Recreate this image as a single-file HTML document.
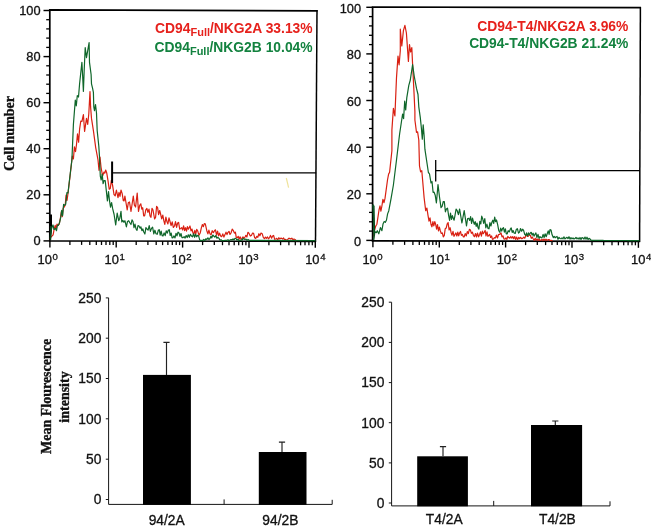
<!DOCTYPE html>
<html><head><meta charset="utf-8"><title>Figure</title>
<style>
html,body{margin:0;padding:0;background:#fff;}
svg{display:block;}
text{font-family:"Liberation Sans",Arial,Helvetica,sans-serif;fill:#111;}
.hl{font-size:12.8px;stroke:#111;stroke-width:0.3px;}
.xl{font-size:12.9px;stroke:#111;stroke-width:0.3px;}
.sup{font-size:9.6px;}
.lg{font-size:13.85px;font-weight:bold;}
.sub{font-size:11px;}
.bl{font-size:13.8px;stroke:#111;stroke-width:0.3px;}
.yl{font-family:"Liberation Serif","Times New Roman",serif;font-weight:bold;font-size:14px;fill:#111;stroke:#111;stroke-width:0.35px;}
</style></head>
<body>
<svg width="651" height="529" viewBox="0 0 651 529">
<rect width="651" height="529" fill="#fff"/>
<path d="M49.8,241.6 L49.8,9.9 L317.6,10.8" fill="none" stroke="#000" stroke-width="1.7" stroke-linejoin="miter"/>
<path d="M317.0,10.100000000000001 L315.5,242.1" fill="none" stroke="#000" stroke-width="1.5"/>
<path d="M49.0,241.0 L316.0,241.4" fill="none" stroke="#000" stroke-width="1.6"/>
<line x1="43.5" y1="240.9" x2="49.8" y2="240.9" stroke="#000" stroke-width="1.45"/>
<text x="40.6" y="245.4" text-anchor="end" class="hl">0</text>
<line x1="46.2" y1="231.7" x2="49.8" y2="231.7" stroke="#000" stroke-width="1.3"/>
<line x1="46.2" y1="222.5" x2="49.8" y2="222.5" stroke="#000" stroke-width="1.3"/>
<line x1="46.2" y1="213.3" x2="49.8" y2="213.3" stroke="#000" stroke-width="1.3"/>
<line x1="46.2" y1="204.0" x2="49.8" y2="204.0" stroke="#000" stroke-width="1.3"/>
<line x1="43.5" y1="194.8" x2="49.8" y2="194.8" stroke="#000" stroke-width="1.45"/>
<text x="40.6" y="199.3" text-anchor="end" class="hl">20</text>
<line x1="46.2" y1="185.6" x2="49.8" y2="185.6" stroke="#000" stroke-width="1.3"/>
<line x1="46.2" y1="176.4" x2="49.8" y2="176.4" stroke="#000" stroke-width="1.3"/>
<line x1="46.2" y1="167.2" x2="49.8" y2="167.2" stroke="#000" stroke-width="1.3"/>
<line x1="46.2" y1="158.0" x2="49.8" y2="158.0" stroke="#000" stroke-width="1.3"/>
<line x1="43.5" y1="148.7" x2="49.8" y2="148.7" stroke="#000" stroke-width="1.45"/>
<text x="40.6" y="153.2" text-anchor="end" class="hl">40</text>
<line x1="46.2" y1="139.5" x2="49.8" y2="139.5" stroke="#000" stroke-width="1.3"/>
<line x1="46.2" y1="130.3" x2="49.8" y2="130.3" stroke="#000" stroke-width="1.3"/>
<line x1="46.2" y1="121.1" x2="49.8" y2="121.1" stroke="#000" stroke-width="1.3"/>
<line x1="46.2" y1="111.9" x2="49.8" y2="111.9" stroke="#000" stroke-width="1.3"/>
<line x1="43.5" y1="102.7" x2="49.8" y2="102.7" stroke="#000" stroke-width="1.45"/>
<text x="40.6" y="107.2" text-anchor="end" class="hl">60</text>
<line x1="46.2" y1="93.4" x2="49.8" y2="93.4" stroke="#000" stroke-width="1.3"/>
<line x1="46.2" y1="84.2" x2="49.8" y2="84.2" stroke="#000" stroke-width="1.3"/>
<line x1="46.2" y1="75.0" x2="49.8" y2="75.0" stroke="#000" stroke-width="1.3"/>
<line x1="46.2" y1="65.8" x2="49.8" y2="65.8" stroke="#000" stroke-width="1.3"/>
<line x1="43.5" y1="56.6" x2="49.8" y2="56.6" stroke="#000" stroke-width="1.45"/>
<text x="40.6" y="61.1" text-anchor="end" class="hl">80</text>
<line x1="46.2" y1="47.4" x2="49.8" y2="47.4" stroke="#000" stroke-width="1.3"/>
<line x1="46.2" y1="38.1" x2="49.8" y2="38.1" stroke="#000" stroke-width="1.3"/>
<line x1="46.2" y1="28.9" x2="49.8" y2="28.9" stroke="#000" stroke-width="1.3"/>
<line x1="46.2" y1="19.7" x2="49.8" y2="19.7" stroke="#000" stroke-width="1.3"/>
<line x1="43.5" y1="10.5" x2="49.8" y2="10.5" stroke="#000" stroke-width="1.45"/>
<text x="40.6" y="15.0" text-anchor="end" class="hl">100</text>
<line x1="49.9" y1="241.0" x2="49.9" y2="247.4" stroke="#000" stroke-width="1.4"/>
<text x="37.6" y="264.3" class="xl">10<tspan dy="-4.6" dx="0.6" class="sup">0</tspan></text>
<line x1="69.9" y1="241.0" x2="69.9" y2="244.9" stroke="#000" stroke-width="1.3"/>
<line x1="81.6" y1="241.0" x2="81.6" y2="244.9" stroke="#000" stroke-width="1.3"/>
<line x1="89.8" y1="241.1" x2="89.8" y2="245.0" stroke="#000" stroke-width="1.3"/>
<line x1="96.3" y1="241.1" x2="96.3" y2="245.0" stroke="#000" stroke-width="1.3"/>
<line x1="101.5" y1="241.1" x2="101.5" y2="245.0" stroke="#000" stroke-width="1.3"/>
<line x1="106.0" y1="241.1" x2="106.0" y2="245.0" stroke="#000" stroke-width="1.3"/>
<line x1="109.8" y1="241.1" x2="109.8" y2="245.0" stroke="#000" stroke-width="1.3"/>
<line x1="113.2" y1="241.1" x2="113.2" y2="245.0" stroke="#000" stroke-width="1.3"/>
<line x1="116.2" y1="241.1" x2="116.2" y2="247.5" stroke="#000" stroke-width="1.4"/>
<text x="104.5" y="264.3" class="xl">10<tspan dy="-4.6" dx="0.6" class="sup">1</tspan></text>
<line x1="136.2" y1="241.1" x2="136.2" y2="245.0" stroke="#000" stroke-width="1.3"/>
<line x1="147.9" y1="241.1" x2="147.9" y2="245.0" stroke="#000" stroke-width="1.3"/>
<line x1="156.2" y1="241.2" x2="156.2" y2="245.1" stroke="#000" stroke-width="1.3"/>
<line x1="162.6" y1="241.2" x2="162.6" y2="245.1" stroke="#000" stroke-width="1.3"/>
<line x1="167.9" y1="241.2" x2="167.9" y2="245.1" stroke="#000" stroke-width="1.3"/>
<line x1="172.3" y1="241.2" x2="172.3" y2="245.1" stroke="#000" stroke-width="1.3"/>
<line x1="176.2" y1="241.2" x2="176.2" y2="245.1" stroke="#000" stroke-width="1.3"/>
<line x1="179.6" y1="241.2" x2="179.6" y2="245.1" stroke="#000" stroke-width="1.3"/>
<line x1="182.6" y1="241.2" x2="182.6" y2="247.6" stroke="#000" stroke-width="1.4"/>
<text x="171.4" y="264.3" class="xl">10<tspan dy="-4.6" dx="0.6" class="sup">2</tspan></text>
<line x1="202.6" y1="241.2" x2="202.6" y2="245.1" stroke="#000" stroke-width="1.3"/>
<line x1="214.3" y1="241.2" x2="214.3" y2="245.1" stroke="#000" stroke-width="1.3"/>
<line x1="222.5" y1="241.3" x2="222.5" y2="245.2" stroke="#000" stroke-width="1.3"/>
<line x1="229.0" y1="241.3" x2="229.0" y2="245.2" stroke="#000" stroke-width="1.3"/>
<line x1="234.2" y1="241.3" x2="234.2" y2="245.2" stroke="#000" stroke-width="1.3"/>
<line x1="238.7" y1="241.3" x2="238.7" y2="245.2" stroke="#000" stroke-width="1.3"/>
<line x1="242.5" y1="241.3" x2="242.5" y2="245.2" stroke="#000" stroke-width="1.3"/>
<line x1="245.9" y1="241.3" x2="245.9" y2="245.2" stroke="#000" stroke-width="1.3"/>
<line x1="249.0" y1="241.3" x2="249.0" y2="247.7" stroke="#000" stroke-width="1.4"/>
<text x="238.3" y="264.3" class="xl">10<tspan dy="-4.6" dx="0.6" class="sup">3</tspan></text>
<line x1="268.9" y1="241.3" x2="268.9" y2="245.2" stroke="#000" stroke-width="1.3"/>
<line x1="280.6" y1="241.3" x2="280.6" y2="245.2" stroke="#000" stroke-width="1.3"/>
<line x1="288.9" y1="241.4" x2="288.9" y2="245.3" stroke="#000" stroke-width="1.3"/>
<line x1="295.3" y1="241.4" x2="295.3" y2="245.3" stroke="#000" stroke-width="1.3"/>
<line x1="300.6" y1="241.4" x2="300.6" y2="245.3" stroke="#000" stroke-width="1.3"/>
<line x1="305.0" y1="241.4" x2="305.0" y2="245.3" stroke="#000" stroke-width="1.3"/>
<line x1="308.9" y1="241.4" x2="308.9" y2="245.3" stroke="#000" stroke-width="1.3"/>
<line x1="312.3" y1="241.4" x2="312.3" y2="245.3" stroke="#000" stroke-width="1.3"/>
<line x1="315.3" y1="241.4" x2="315.3" y2="247.8" stroke="#000" stroke-width="1.4"/>
<text x="305.2" y="264.3" class="xl">10<tspan dy="-4.6" dx="0.6" class="sup">4</tspan></text>
<polyline points="50.0,239.0 51.0,236.9 52.0,236.0 53.1,234.9 54.2,229.0 55.2,225.4 56.1,228.8 57.0,224.1 58.0,225.5 59.2,224.2 60.4,218.0 61.4,211.7 62.3,216.7 63.2,208.1 64.2,207.0 65.2,205.2 66.1,195.0 67.0,200.5 68.0,193.5 70.3,174.0 72.3,156.0 73.4,159.0 74.4,146.9 75.5,151.6 76.5,144.5 77.5,133.8 78.6,142.1 79.6,129.2 80.8,121.0 81.9,121.5 83.4,114.6 84.6,131.5 86.5,118.4 87.7,124.5 88.8,113.8 90.0,91.5 90.6,106.9 91.5,118.4 93.4,130.7 95.7,147.6 98.0,159.9 99.0,170.3 100.0,157.0 101.0,167.0 102.6,176.0 104.0,172.0 104.8,173.2 105.7,170.0 106.8,173.3 108.0,180.7 109.2,189.2 110.3,188.4 111.4,180.2 112.6,185.3 114.0,194.5 115.2,195.8 116.4,190.0 118.0,197.6 119.0,192.4 120.0,196.3 121.0,190.0 122.2,193.6 123.3,200.7 124.1,200.9 124.9,196.0 127.2,210.0 128.3,202.8 129.5,202.0 131.0,211.5 133.3,196.0 134.4,205.2 135.6,207.0 137.2,193.0 138.5,211.5 139.7,205.3 140.8,203.8 141.8,209.2 142.7,207.7 143.7,215.9 144.6,216.0 145.8,209.8 146.9,208.4 147.9,212.3 149.0,209.1 150.0,216.0 151.0,217.3 152.0,208.3 153.0,210.0 154.6,219.0 155.6,217.1 156.6,206.3 157.6,207.6 158.6,214.6 159.7,210.5 160.7,214.5 161.7,218.9 162.8,215.1 163.8,220.7 164.8,224.3 165.9,217.2 166.9,221.5 167.9,223.9 169.0,217.9 170.0,221.5 171.1,225.7 172.2,221.9 173.4,227.5 174.5,226.0 175.5,221.6 176.6,227.4 177.6,223.0 178.6,222.4 179.7,229.1 180.7,228.4 181.7,227.6 182.6,230.0 183.6,225.9 184.6,230.6 185.5,227.7 186.5,231.1 187.4,226.6 188.4,229.2 190.0,226.0 191.0,230.9 192.0,229.1 193.0,233.0 193.9,234.1 194.8,230.3 195.8,234.0 196.7,229.3 197.6,230.7 199.0,235.3 200.2,233.0 201.4,227.6 202.4,224.5 203.4,226.7 204.3,223.7 205.3,223.8 206.8,230.7 207.9,233.9 208.9,230.1 210.0,233.8 211.1,234.9 212.2,230.7 213.4,232.6 214.5,230.7 215.5,229.8 216.5,235.2 217.6,231.2 218.6,235.8 219.6,233.1 220.6,236.0 221.7,236.6 222.8,233.9 223.9,237.1 225.0,234.6 226.0,232.1 227.0,234.6 228.0,232.3 229.0,231.3 230.0,234.5 231.0,233.0 232.2,229.1 233.4,230.7 234.4,233.1 235.4,232.1 236.3,237.7 237.3,237.6 238.2,236.3 239.2,239.2 240.1,236.8 241.1,239.2 242.0,238.4 243.0,236.9 244.0,238.4 245.0,237.0 245.9,235.4 246.9,237.0 247.9,232.3 248.8,233.0 250.3,236.0 251.4,235.4 252.6,233.0 253.6,233.3 254.7,237.8 255.7,238.4 256.8,236.4 257.8,237.3 258.9,233.7 259.9,235.8 261.0,233.0 262.2,233.7 263.4,237.6 264.4,238.6 265.4,237.1 266.4,238.3 267.5,237.0 268.5,238.8 269.5,237.6 270.5,235.4 271.6,238.2 272.6,236.0 273.6,235.5 274.7,239.3 275.7,239.0 276.7,238.3 277.7,240.0 278.8,237.7 279.8,239.0 280.8,238.1 281.8,238.4 282.7,239.1 283.6,238.0 284.6,239.8 285.5,239.4 286.4,240.0 287.4,240.2 288.5,238.3 289.5,238.4 290.6,239.0 291.8,238.2 292.9,239.7 294.0,239.0 295.0,239.5 296.0,240.7" fill="none" stroke="#d92012" stroke-width="1.2" stroke-linejoin="round" stroke-linecap="round"/>
<polyline points="50.0,238.0 51.0,230.0 52.0,227.0 53.0,225.0 54.0,229.5 55.5,228.4 56.5,230.7 57.4,225.3 58.4,225.3 59.5,222.8 60.7,217.6 61.7,210.3 62.6,215.6 63.6,204.4 64.6,205.4 65.7,204.1 66.9,192.7 68.0,193.0 70.3,173.0 71.9,160.0 73.4,124.5 75.3,100.0 76.3,105.8 77.3,95.5 78.5,97.0 79.6,83.8 81.9,62.3 82.6,75.0 83.4,91.4 84.2,70.0 85.2,47.7 86.5,57.6 87.8,50.0 89.1,42.6 89.5,62.3 91.1,74.5 91.5,83.8 92.6,88.4 93.4,92.3 93.8,106.8 94.5,110.7 95.5,104.5 96.5,113.0 97.2,130.7 98.8,146.0 99.5,156.8 100.3,176.0 101.2,180.0 102.2,174.1 103.1,183.6 104.0,180.7 105.2,180.5 106.4,191.5 107.4,201.0 108.5,191.6 109.5,200.7 110.5,207.1 111.6,202.6 112.6,208.4 114.1,214.5 115.7,225.0 117.2,213.0 118.7,220.7 119.8,218.2 121.0,211.4 121.8,222.0 122.8,220.4 123.9,222.3 124.9,220.7 126.4,226.8 127.5,221.4 128.7,220.7 130.0,223.0 131.0,224.5 132.0,219.8 133.0,221.5 134.0,227.6 135.0,224.2 136.0,229.0 137.0,230.3 138.0,225.5 139.0,226.0 140.0,228.1 140.9,226.8 141.9,230.7 142.8,228.9 143.8,232.0 144.9,234.0 145.9,227.7 147.0,229.0 148.1,230.1 149.2,225.7 150.4,231.4 151.5,228.4 152.6,227.2 153.8,233.8 154.9,230.2 156.0,233.8 157.2,234.3 158.4,230.0 159.3,229.7 160.2,235.1 161.2,231.1 162.1,235.7 163.0,236.0 164.1,232.9 165.2,235.6 166.2,230.8 167.3,233.1 168.4,230.0 169.3,229.7 170.2,235.5 171.2,233.1 172.1,237.9 173.0,237.6 174.0,235.9 175.0,237.9 176.0,233.3 177.0,235.9 178.0,232.1 179.0,233.0 180.0,236.4 181.0,233.5 182.0,237.7 183.0,237.6 184.1,236.7 185.1,238.1 186.2,235.6 187.2,237.5 188.3,234.8 189.4,237.3 190.4,234.3 191.5,236.0 192.5,236.9 193.5,233.7 194.6,237.3 195.6,234.2 196.6,236.8 197.6,235.3 198.6,235.8 199.7,239.8 200.7,240.7 201.7,240.4 202.8,240.5 203.8,239.4 204.8,240.6 205.9,238.7 206.9,239.5 207.9,237.8 209.0,239.7 210.0,238.4 210.9,236.3 211.8,237.9 212.8,235.0 213.7,236.0 214.8,237.1 215.8,235.6 216.9,238.2 217.9,237.3 219.0,238.4 220.0,240.2 221.0,239.7 222.0,240.7 223.0,240.6 224.0,240.5 225.0,240.4 226.0,240.3 227.0,240.3 228.0,239.8 229.0,240.7 230.0,240.0 231.0,239.5 232.0,240.0 233.0,238.8 234.0,239.9 235.0,238.3 236.0,238.5 237.0,240.2 238.0,239.2 239.0,240.6 240.0,240.5 241.0,239.9 242.0,240.2 243.0,238.4 244.0,239.0 245.0,239.6 246.0,239.0 247.0,240.4 248.0,239.4 249.0,240.3 250.0,240.3 315.0,240.6" fill="none" stroke="#0f662a" stroke-width="1.2" stroke-linejoin="round" stroke-linecap="round"/>
<path d="M49.4,214.5 H52 V227 L50.6,239.5 H49.4 Z" fill="#000"/>
<path d="M50.2,226 L52.3,226.5 L51.2,240 L49.8,240 Z" fill="#0a4a1c"/>
<line x1="112.1" y1="161.5" x2="112.1" y2="183" stroke="#000" stroke-width="2"/>
<line x1="112.1" y1="172.8" x2="316.2" y2="172.8" stroke="#000" stroke-width="1.3"/>
<line x1="286.3" y1="178" x2="288.6" y2="187.6" stroke="#efe39a" stroke-width="1.2"/>
<text x="312.6" y="32.7" text-anchor="end" class="lg" style="fill:#e6211c">CD94<tspan class="sub" dy="2.8">Full</tspan><tspan dy="-2.8">/NKG2A 33.13%</tspan></text>
<text x="312.6" y="51.8" text-anchor="end" class="lg" style="fill:#13823f">CD94<tspan class="sub" dy="2.8">Full</tspan><tspan dy="-2.8">/NKG2B 10.04%</tspan></text>
<text transform="translate(13.9,133.5) rotate(-90)" text-anchor="middle" class="yl">Cell number</text>
<path d="M372.6,241.5 L372.6,7.0 L641.0,7.7" fill="none" stroke="#000" stroke-width="1.7" stroke-linejoin="miter"/>
<path d="M640.4,7.0 L639.6,242.1" fill="none" stroke="#000" stroke-width="1.5"/>
<path d="M371.8,240.9 L640.1,241.4" fill="none" stroke="#000" stroke-width="1.6"/>
<line x1="366.3" y1="240.4" x2="372.6" y2="240.4" stroke="#000" stroke-width="1.45"/>
<text x="361.1" y="245.9" text-anchor="end" class="hl">0</text>
<line x1="369.0" y1="231.1" x2="372.6" y2="231.1" stroke="#000" stroke-width="1.3"/>
<line x1="369.0" y1="221.8" x2="372.6" y2="221.8" stroke="#000" stroke-width="1.3"/>
<line x1="369.0" y1="212.4" x2="372.6" y2="212.4" stroke="#000" stroke-width="1.3"/>
<line x1="369.0" y1="203.1" x2="372.6" y2="203.1" stroke="#000" stroke-width="1.3"/>
<line x1="366.3" y1="193.8" x2="372.6" y2="193.8" stroke="#000" stroke-width="1.45"/>
<text x="361.1" y="199.3" text-anchor="end" class="hl">20</text>
<line x1="369.0" y1="184.5" x2="372.6" y2="184.5" stroke="#000" stroke-width="1.3"/>
<line x1="369.0" y1="175.1" x2="372.6" y2="175.1" stroke="#000" stroke-width="1.3"/>
<line x1="369.0" y1="165.8" x2="372.6" y2="165.8" stroke="#000" stroke-width="1.3"/>
<line x1="369.0" y1="156.5" x2="372.6" y2="156.5" stroke="#000" stroke-width="1.3"/>
<line x1="366.3" y1="147.2" x2="372.6" y2="147.2" stroke="#000" stroke-width="1.45"/>
<text x="361.1" y="152.7" text-anchor="end" class="hl">40</text>
<line x1="369.0" y1="137.8" x2="372.6" y2="137.8" stroke="#000" stroke-width="1.3"/>
<line x1="369.0" y1="128.5" x2="372.6" y2="128.5" stroke="#000" stroke-width="1.3"/>
<line x1="369.0" y1="119.2" x2="372.6" y2="119.2" stroke="#000" stroke-width="1.3"/>
<line x1="369.0" y1="109.9" x2="372.6" y2="109.9" stroke="#000" stroke-width="1.3"/>
<line x1="366.3" y1="100.5" x2="372.6" y2="100.5" stroke="#000" stroke-width="1.45"/>
<text x="361.1" y="106.0" text-anchor="end" class="hl">60</text>
<line x1="369.0" y1="91.2" x2="372.6" y2="91.2" stroke="#000" stroke-width="1.3"/>
<line x1="369.0" y1="81.9" x2="372.6" y2="81.9" stroke="#000" stroke-width="1.3"/>
<line x1="369.0" y1="72.6" x2="372.6" y2="72.6" stroke="#000" stroke-width="1.3"/>
<line x1="369.0" y1="63.2" x2="372.6" y2="63.2" stroke="#000" stroke-width="1.3"/>
<line x1="366.3" y1="53.9" x2="372.6" y2="53.9" stroke="#000" stroke-width="1.45"/>
<text x="361.1" y="59.4" text-anchor="end" class="hl">80</text>
<line x1="369.0" y1="44.6" x2="372.6" y2="44.6" stroke="#000" stroke-width="1.3"/>
<line x1="369.0" y1="35.3" x2="372.6" y2="35.3" stroke="#000" stroke-width="1.3"/>
<line x1="369.0" y1="25.9" x2="372.6" y2="25.9" stroke="#000" stroke-width="1.3"/>
<line x1="369.0" y1="16.6" x2="372.6" y2="16.6" stroke="#000" stroke-width="1.3"/>
<line x1="366.3" y1="7.3" x2="372.6" y2="7.3" stroke="#000" stroke-width="1.45"/>
<text x="361.1" y="12.8" text-anchor="end" class="hl">100</text>
<line x1="372.9" y1="240.9" x2="372.9" y2="247.3" stroke="#000" stroke-width="1.4"/>
<text x="362.4" y="264.3" class="xl">10<tspan dy="-4.6" dx="0.6" class="sup">0</tspan></text>
<line x1="392.9" y1="240.9" x2="392.9" y2="244.8" stroke="#000" stroke-width="1.3"/>
<line x1="404.6" y1="241.0" x2="404.6" y2="244.9" stroke="#000" stroke-width="1.3"/>
<line x1="412.9" y1="241.0" x2="412.9" y2="244.9" stroke="#000" stroke-width="1.3"/>
<line x1="419.3" y1="241.0" x2="419.3" y2="244.9" stroke="#000" stroke-width="1.3"/>
<line x1="424.5" y1="241.0" x2="424.5" y2="244.9" stroke="#000" stroke-width="1.3"/>
<line x1="429.0" y1="241.0" x2="429.0" y2="244.9" stroke="#000" stroke-width="1.3"/>
<line x1="432.8" y1="241.0" x2="432.8" y2="244.9" stroke="#000" stroke-width="1.3"/>
<line x1="436.2" y1="241.0" x2="436.2" y2="244.9" stroke="#000" stroke-width="1.3"/>
<line x1="439.3" y1="241.0" x2="439.3" y2="247.4" stroke="#000" stroke-width="1.4"/>
<text x="429.5" y="264.3" class="xl">10<tspan dy="-4.6" dx="0.6" class="sup">1</tspan></text>
<line x1="459.3" y1="241.1" x2="459.3" y2="245.0" stroke="#000" stroke-width="1.3"/>
<line x1="470.9" y1="241.1" x2="470.9" y2="245.0" stroke="#000" stroke-width="1.3"/>
<line x1="479.2" y1="241.1" x2="479.2" y2="245.0" stroke="#000" stroke-width="1.3"/>
<line x1="485.7" y1="241.1" x2="485.7" y2="245.0" stroke="#000" stroke-width="1.3"/>
<line x1="490.9" y1="241.1" x2="490.9" y2="245.0" stroke="#000" stroke-width="1.3"/>
<line x1="495.4" y1="241.1" x2="495.4" y2="245.0" stroke="#000" stroke-width="1.3"/>
<line x1="499.2" y1="241.1" x2="499.2" y2="245.0" stroke="#000" stroke-width="1.3"/>
<line x1="502.6" y1="241.1" x2="502.6" y2="245.0" stroke="#000" stroke-width="1.3"/>
<line x1="505.6" y1="241.1" x2="505.6" y2="247.5" stroke="#000" stroke-width="1.4"/>
<text x="496.7" y="264.3" class="xl">10<tspan dy="-4.6" dx="0.6" class="sup">2</tspan></text>
<line x1="525.6" y1="241.2" x2="525.6" y2="245.1" stroke="#000" stroke-width="1.3"/>
<line x1="537.3" y1="241.2" x2="537.3" y2="245.1" stroke="#000" stroke-width="1.3"/>
<line x1="545.6" y1="241.2" x2="545.6" y2="245.1" stroke="#000" stroke-width="1.3"/>
<line x1="552.0" y1="241.2" x2="552.0" y2="245.1" stroke="#000" stroke-width="1.3"/>
<line x1="557.3" y1="241.2" x2="557.3" y2="245.1" stroke="#000" stroke-width="1.3"/>
<line x1="561.7" y1="241.3" x2="561.7" y2="245.2" stroke="#000" stroke-width="1.3"/>
<line x1="565.6" y1="241.3" x2="565.6" y2="245.2" stroke="#000" stroke-width="1.3"/>
<line x1="569.0" y1="241.3" x2="569.0" y2="245.2" stroke="#000" stroke-width="1.3"/>
<line x1="572.0" y1="241.3" x2="572.0" y2="247.7" stroke="#000" stroke-width="1.4"/>
<text x="563.9" y="264.3" class="xl">10<tspan dy="-4.6" dx="0.6" class="sup">3</tspan></text>
<line x1="592.0" y1="241.3" x2="592.0" y2="245.2" stroke="#000" stroke-width="1.3"/>
<line x1="603.7" y1="241.3" x2="603.7" y2="245.2" stroke="#000" stroke-width="1.3"/>
<line x1="612.0" y1="241.3" x2="612.0" y2="245.2" stroke="#000" stroke-width="1.3"/>
<line x1="618.4" y1="241.4" x2="618.4" y2="245.3" stroke="#000" stroke-width="1.3"/>
<line x1="623.7" y1="241.4" x2="623.7" y2="245.3" stroke="#000" stroke-width="1.3"/>
<line x1="628.1" y1="241.4" x2="628.1" y2="245.3" stroke="#000" stroke-width="1.3"/>
<line x1="632.0" y1="241.4" x2="632.0" y2="245.3" stroke="#000" stroke-width="1.3"/>
<line x1="635.4" y1="241.4" x2="635.4" y2="245.3" stroke="#000" stroke-width="1.3"/>
<line x1="638.4" y1="241.4" x2="638.4" y2="247.8" stroke="#000" stroke-width="1.4"/>
<text x="631.0" y="264.3" class="xl">10<tspan dy="-4.6" dx="0.6" class="sup">4</tspan></text>
<polyline points="373.5,236.0 374.6,229.7 375.8,226.0 376.9,224.2 378.0,216.9 379.0,210.0 380.0,205.8 380.9,211.2 381.9,206.0 382.9,199.3 384.0,202.7 385.0,198.4 387.5,180.0 388.6,174.1 389.6,172.2 391.9,150.7 391.9,129.9 393.4,108.4 394.9,116.0 396.5,77.6 398.0,56.0 399.1,64.8 400.3,50.7 400.3,29.2 401.8,46.0 403.4,30.7 404.9,25.3 406.4,33.0 408.4,61.4 409.5,44.5 410.6,52.0 411.8,47.6 412.6,64.5 413.8,88.4 414.9,111.4 414.9,120.0 416.5,132.3 417.6,131.8 418.8,140.0 419.5,166.0 420.6,171.8 421.8,170.7 422.6,180.0 424.1,197.6 425.7,210.7 426.9,208.0 428.0,215.3 429.0,221.1 430.0,217.8 431.0,224.5 431.9,226.8 432.9,221.7 433.8,225.9 434.8,221.7 435.7,224.5 436.6,229.1 437.5,224.7 438.5,230.9 439.4,227.1 440.3,230.7 441.3,233.5 442.3,232.9 443.3,236.8 444.3,235.3 445.2,228.8 446.2,228.0 447.2,223.8 448.1,222.6 449.1,230.0 450.1,227.7 451.0,232.2 452.0,235.2 453.0,231.3 454.0,236.3 455.0,234.5 455.9,232.9 456.8,236.0 457.8,232.1 458.7,235.8 459.6,233.0 460.5,231.5 461.4,235.3 462.4,234.5 463.3,236.9 464.2,236.8 465.2,233.6 466.3,235.9 467.3,231.6 468.3,233.6 469.4,229.3 470.4,230.0 471.4,233.3 472.4,232.2 473.4,235.3 474.4,236.7 475.5,233.5 476.5,237.0 477.5,233.0 478.6,236.8 479.6,234.5 480.5,231.9 481.4,236.1 482.4,231.1 483.3,233.7 484.2,232.2 485.1,230.4 486.0,235.9 487.0,231.8 487.9,236.3 488.8,235.3 489.7,234.4 490.6,237.5 491.6,236.0 492.5,239.3 493.4,239.0 494.4,237.6 495.4,238.0 496.4,235.1 497.5,238.0 498.5,234.5 499.5,234.5 501.0,233.0 502.0,236.9 503.0,236.0 504.0,239.0 505.0,239.2 505.9,237.8 506.9,239.4 507.8,236.4 508.8,237.6 509.8,238.1 510.8,236.5 511.8,238.2 512.7,236.6 513.7,238.7 514.7,236.5 515.7,239.5 516.7,237.1 517.7,239.6 518.7,237.4 519.6,238.7 520.6,237.3 521.6,238.7 522.6,238.4 523.7,237.2 524.8,238.2 525.9,235.2 527.0,236.0 528.1,236.5 529.2,234.9 530.3,235.3 531.3,238.3 532.3,237.0 533.3,239.0 534.3,240.3 535.2,238.2 536.2,240.0 537.1,238.9 538.1,240.3 539.1,239.1 540.0,240.5 541.0,240.0 542.0,239.4 543.0,240.5 544.0,239.0 545.0,240.3 546.0,239.2 547.0,240.4 548.0,239.6 549.0,239.5 550.0,240.5 551.0,240.3 552.0,240.6" fill="none" stroke="#d92012" stroke-width="1.2" stroke-linejoin="round" stroke-linecap="round"/>
<polyline points="373.0,205.0 374.2,234.0 375.2,231.8 376.3,232.7 377.3,230.7 378.8,233.8 380.4,227.6 381.9,230.7 383.0,224.1 384.2,221.5 385.4,222.3 386.5,220.0 387.6,213.9 388.8,210.7 391.1,198.4 393.4,185.0 396.5,160.0 399.6,134.0 402.6,114.0 403.6,118.6 404.7,101.2 405.7,110.0 406.8,97.6 408.8,85.3 410.3,80.0 412.6,64.6 414.2,76.0 416.5,88.4 418.0,94.5 418.8,106.8 420.3,117.6 421.4,128.3 422.3,139.1 423.2,124.9 424.1,135.4 424.9,149.2 427.2,164.5 428.4,172.5 429.5,173.8 431.0,183.0 432.0,181.5 433.1,192.3 434.1,192.2 435.2,195.2 436.4,203.0 438.0,184.6 439.5,197.0 441.0,207.6 442.1,206.4 443.3,201.5 444.3,201.6 445.4,211.8 446.4,209.0 447.5,208.1 448.7,216.0 449.6,220.5 450.5,213.0 451.5,219.3 452.4,215.7 453.3,218.4 454.1,220.2 455.0,215.3 456.1,209.0 457.2,210.7 458.4,214.6 459.6,209.0 461.9,223.0 464.2,210.7 466.5,226.0 467.6,218.5 468.8,218.4 469.7,220.4 470.6,216.6 471.6,223.5 472.5,218.2 473.4,221.5 474.3,224.3 475.2,221.6 476.2,226.3 477.1,223.0 478.0,227.6 478.9,229.1 479.8,221.3 480.8,224.0 481.7,216.2 482.6,218.4 483.7,223.3 484.8,218.7 485.8,227.8 486.9,224.1 488.0,228.4 489.0,228.8 489.9,222.7 490.9,226.0 491.9,222.2 492.8,220.2 493.7,223.3 494.7,217.2 495.6,221.6 496.5,220.0 497.6,224.3 498.8,230.7 499.8,232.3 500.7,228.1 501.7,231.1 502.6,228.4 503.5,227.6 504.4,232.1 505.4,228.8 506.3,233.8 507.2,233.8 508.2,230.7 509.3,231.9 510.3,229.2 511.2,227.9 512.2,232.4 513.1,230.6 514.1,233.0 515.2,233.5 516.4,229.2 517.4,228.7 518.5,233.2 519.5,232.2 520.5,228.5 521.6,231.2 522.6,229.2 523.6,230.4 524.7,234.4 525.7,235.3 526.6,232.9 527.5,236.1 528.5,232.9 529.4,234.7 530.3,233.0 531.2,232.3 532.1,235.1 533.1,233.2 534.0,236.1 534.9,234.5 535.9,232.9 536.9,237.6 538.0,234.4 539.0,238.4 540.0,236.6 541.0,237.6 542.0,237.8 543.1,234.4 544.1,237.5 545.1,233.8 546.2,236.7 547.2,233.8 548.2,230.9 549.1,234.3 550.0,229.6 551.0,230.0 552.1,234.8 553.3,237.6 554.2,236.4 555.1,237.8 556.0,237.0 557.0,236.4 558.0,239.3 559.0,237.4 560.0,238.5 561.0,238.8 562.0,237.9 563.0,238.8 564.0,236.9 565.0,238.9 566.0,238.0 567.0,237.3 568.0,238.6 569.0,236.7 570.0,239.1 571.0,237.7 572.0,238.8 573.0,238.0 574.0,239.0 575.0,238.5 576.0,237.4 577.0,238.9 578.0,237.9 579.0,239.2 580.0,237.5 581.0,239.6 582.0,237.5 583.0,238.0 584.0,239.1 585.0,237.1 586.0,239.2 587.0,237.2 588.0,239.5 589.0,238.3 590.0,239.0 591.0,240.2 592.0,240.4 593.0,240.4 594.0,240.4 595.0,240.4 596.0,240.4 597.0,240.4 598.0,240.4 599.0,240.4 600.0,240.4 601.0,240.4 602.0,240.4 603.0,240.4 604.0,240.5 605.0,240.5 606.0,240.5 607.0,240.5 608.0,240.5 609.0,240.5 610.0,240.5 611.0,240.5 612.0,240.5 613.0,240.5 614.0,240.5 615.0,240.5 616.0,240.5 617.0,240.5 618.0,240.5 619.0,240.5 620.0,240.5 621.0,240.5 622.0,240.5 623.0,240.5 624.0,240.5 625.0,240.5 626.0,240.5 627.0,240.5 628.0,240.6 629.0,240.6 630.0,240.6 631.0,240.6 632.0,240.6 633.0,240.6 634.0,240.6 635.0,240.6 636.0,240.6 637.0,240.6 638.0,240.6 639.0,240.6" fill="none" stroke="#0f662a" stroke-width="1.2" stroke-linejoin="round" stroke-linecap="round"/>
<path d="M373.2,204 L374.6,206 L375.2,234 L374.4,240 L373.2,240 Z" fill="#0c4f20"/>
<line x1="435.7" y1="160" x2="435.7" y2="181.4" stroke="#000" stroke-width="1.3"/>
<line x1="435.7" y1="170.7" x2="640.0" y2="170.7" stroke="#000" stroke-width="1.2"/>
<text x="628.4" y="30.9" text-anchor="end" class="lg" style="fill:#e6211c">CD94-T4/NKG2A 3.96%</text>
<text x="628.4" y="48.1" text-anchor="end" class="lg" style="fill:#13823f">CD94-T4/NKG2B 21.24%</text>
<path d="M108.6,297.85 V504.4 H332.2 V499.79999999999995" fill="none" stroke="#151515" stroke-width="1"/>
<line x1="224.1" y1="504.4" x2="224.1" y2="499.4" stroke="#151515" stroke-width="1"/>
<line x1="105.8" y1="499.5" x2="108.6" y2="499.5" stroke="#151515" stroke-width="1"/>
<text x="101.4" y="504.4" text-anchor="end" class="bl">0</text>
<line x1="105.8" y1="459.2" x2="108.6" y2="459.2" stroke="#151515" stroke-width="1"/>
<text x="101.4" y="464.1" text-anchor="end" class="bl">50</text>
<line x1="105.8" y1="418.8" x2="108.6" y2="418.8" stroke="#151515" stroke-width="1"/>
<text x="101.4" y="423.7" text-anchor="end" class="bl">100</text>
<line x1="105.8" y1="378.5" x2="108.6" y2="378.5" stroke="#151515" stroke-width="1"/>
<text x="101.4" y="383.4" text-anchor="end" class="bl">150</text>
<line x1="105.8" y1="338.2" x2="108.6" y2="338.2" stroke="#151515" stroke-width="1"/>
<text x="101.4" y="343.1" text-anchor="end" class="bl">200</text>
<line x1="105.8" y1="297.9" x2="108.6" y2="297.9" stroke="#151515" stroke-width="1"/>
<text x="101.4" y="302.8" text-anchor="end" class="bl">250</text>
<rect x="143.0" y="374.9" width="47.9" height="129.9" fill="#000"/>
<path d="M166.5,374.9 V342.3 M163.4,342.3 H169.6" fill="none" stroke="#222" stroke-width="1.15"/>
<text x="166.7" y="525.4" text-anchor="middle" class="bl">94/2A</text>
<rect x="258.8" y="452.0" width="47.7" height="52.8" fill="#000"/>
<path d="M282.0,452.0 V442.1 M278.9,442.1 H285.1" fill="none" stroke="#222" stroke-width="1.15"/>
<text x="280.4" y="525.4" text-anchor="middle" class="bl">94/2B</text>
<path d="M391.6,302.25 V505.9 H610.0 V501.29999999999995" fill="none" stroke="#151515" stroke-width="1"/>
<line x1="493.7" y1="505.9" x2="493.7" y2="500.9" stroke="#151515" stroke-width="1"/>
<line x1="388.8" y1="503.0" x2="391.6" y2="503.0" stroke="#151515" stroke-width="1"/>
<text x="384.4" y="507.9" text-anchor="end" class="bl">0</text>
<line x1="388.8" y1="462.9" x2="391.6" y2="462.9" stroke="#151515" stroke-width="1"/>
<text x="384.4" y="467.8" text-anchor="end" class="bl">50</text>
<line x1="388.8" y1="422.7" x2="391.6" y2="422.7" stroke="#151515" stroke-width="1"/>
<text x="384.4" y="427.6" text-anchor="end" class="bl">100</text>
<line x1="388.8" y1="382.6" x2="391.6" y2="382.6" stroke="#151515" stroke-width="1"/>
<text x="384.4" y="387.4" text-anchor="end" class="bl">150</text>
<line x1="388.8" y1="342.4" x2="391.6" y2="342.4" stroke="#151515" stroke-width="1"/>
<text x="384.4" y="347.3" text-anchor="end" class="bl">200</text>
<line x1="388.8" y1="302.2" x2="391.6" y2="302.2" stroke="#151515" stroke-width="1"/>
<text x="384.4" y="307.1" text-anchor="end" class="bl">250</text>
<rect x="417.2" y="456.3" width="50.7" height="50.0" fill="#000"/>
<path d="M443.0,456.3 V446.6 M439.9,446.6 H446.1" fill="none" stroke="#222" stroke-width="1.15"/>
<text x="444.2" y="524.4" text-anchor="middle" class="bl">T4/2A</text>
<rect x="531.0" y="425.0" width="51.1" height="81.3" fill="#000"/>
<path d="M555.3,425.0 V421.0 M552.1999999999999,421.0 H558.4" fill="none" stroke="#222" stroke-width="1.15"/>
<text x="557.4" y="524.4" text-anchor="middle" class="bl">T4/2B</text>
<text transform="translate(51.0,396.4) rotate(-90)" text-anchor="middle" class="yl">Mean Flourescence</text>
<text transform="translate(69.0,397) rotate(-90)" text-anchor="middle" class="yl">intensity</text>
</svg>
</body></html>
